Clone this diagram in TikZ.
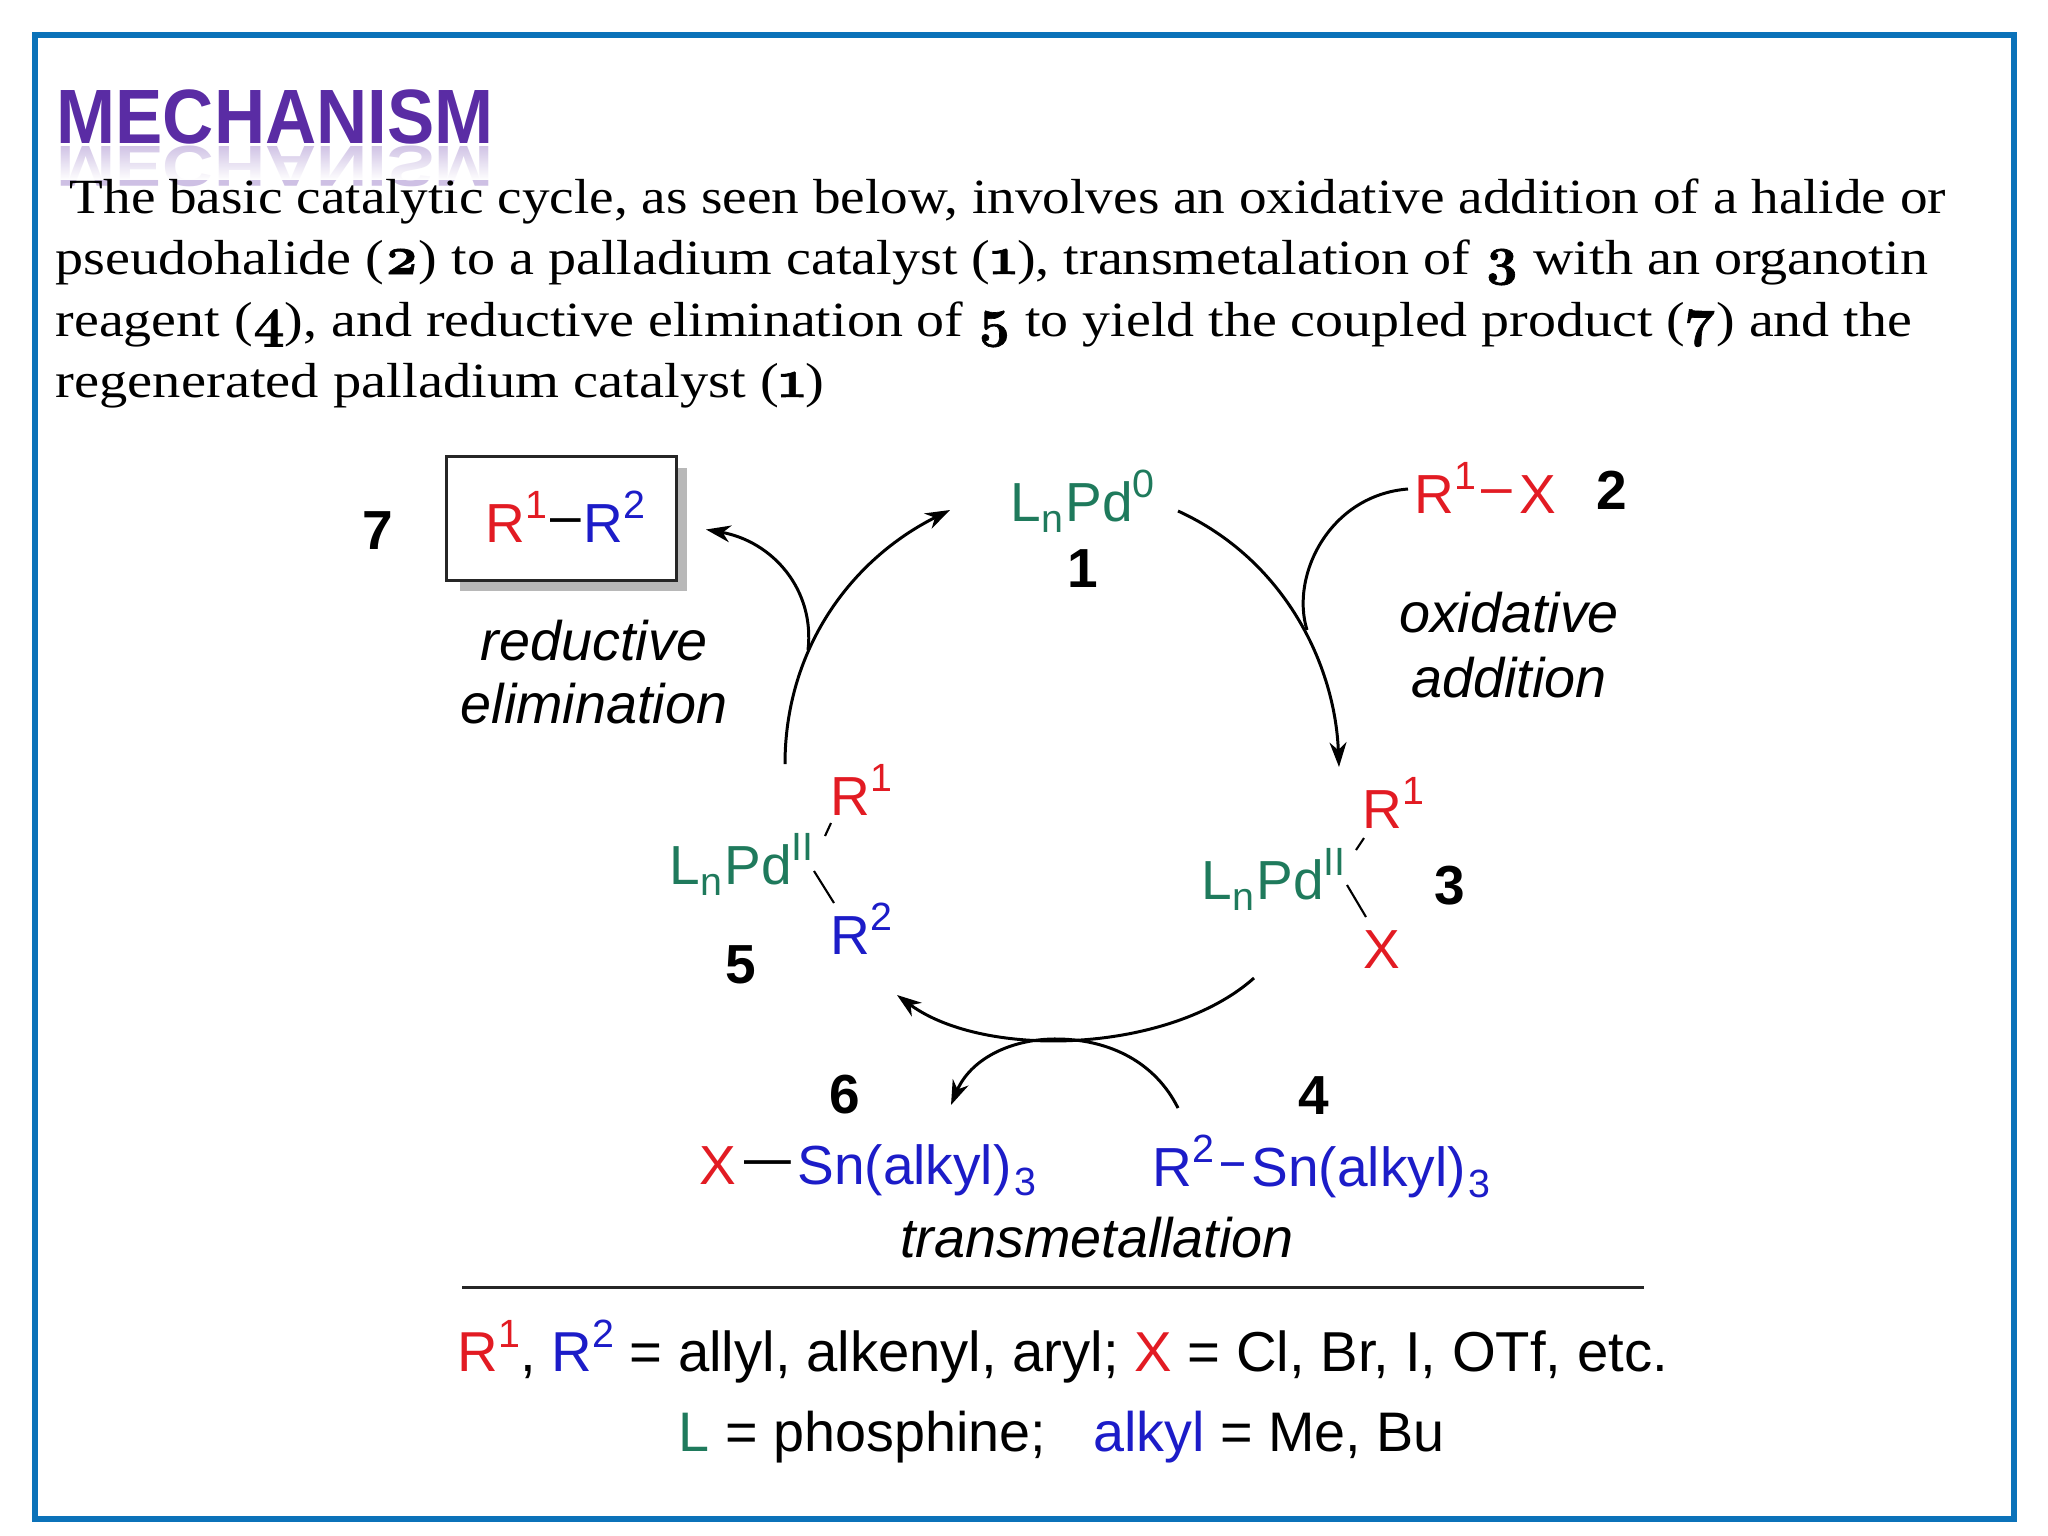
\documentclass[tikz,border=0pt]{standalone}
\usepackage{fontspec}
\usepackage{xcolor}
\usepackage{tikz}
\usetikzlibrary{calc}
\usetikzlibrary{positioning}
\usetikzlibrary{arrows.meta}
\usetikzlibrary{fadings}
\setmainfont{Liberation Sans}
\newfontfamily\bodyfont[FakeStretch=1.12]{Liberation Serif}
\newfontfamily\numfont[Numbers=OldStyle,FakeBold=1.2]{Latin Modern Roman}
\definecolor{framecol}{HTML}{0B72B9}
\definecolor{titlecol}{HTML}{5A2CA4}
\definecolor{pdgreen}{HTML}{1F7A5C}
\definecolor{rred}{HTML}{E21B23}
\definecolor{rblue}{HTML}{1C1CC8}
\newcommand{\upp}[1]{\raisebox{0.42em}{\fontsize{11.2}{11.2}\selectfont #1}}
\newcommand{\low}[1]{\raisebox{-0.2em}{\fontsize{11.2}{11.2}\selectfont #1}}
\newcommand{\bondup}[1]{\raisebox{0.14em}{#1}}
\newcommand{\bnum}[1]{{\numfont\bfseries\fontsize{15.5}{15.5}\selectfont #1}}
\tikzset{
  chem/.style = {anchor=base west, inner sep=0pt, font=\fontsize{15.65}{15.65}\selectfont},
  pdtext/.style = {chem, text=pdgreen},
  keyline/.style = {anchor=base west, inner sep=0pt, font=\fontsize{16}{16}\selectfont},
  numlabel/.style = {anchor=base, inner sep=0pt, font=\fontsize{15.65}{15.65}\selectfont\bfseries},
  steplabel/.style = {anchor=base, inner sep=0pt, font=\fontsize{15.85}{15.85}\selectfont\itshape},
  bodyline/.style = {anchor=base west, inner sep=0pt, transform shape, font=\bodyfont\fontsize{14}{14}\selectfont},
  rxn/.style = {line width=0.85pt, -{Stealth[length=7pt,width=4.8pt,inset=2.2pt]}},
  rxnfree/.style = {line width=0.85pt},
  thinbond/.style = {line width=0.6pt},
}

\begin{document}
\begin{tikzpicture}[x=0.01cm,y=-0.01cm]
\useasboundingbox (0,0) rectangle (2048,1536);
\draw[framecol, line width=1.6pt] (35,35) rectangle (2014,1519);

% heading and its reflection
\node[anchor=base west, inner sep=0pt, text=titlecol, transform shape, xscale=0.92,
  font=\fontsize{21.9}{21.9}\selectfont\bfseries] (title) at (56,143) {MECHANISM};
\node[anchor=base west, inner sep=0pt, text=titlecol!30, transform shape, xscale=0.92, yscale=-0.75,
  font=\fontsize{21.9}{21.9}\selectfont\bfseries] (titleflip) at (56,146) {MECHANISM};
\fill[white, path fading=north] (50,144) rectangle (500,180);

% the paragraph
\node[bodyline, xscale=1.0014] (line1) at (69,213) {The basic catalytic cycle, as seen below, involves an oxidative addition of a halide or};
\node[bodyline, xscale=1.0173] (line2) at (55,274) {pseudohalide (\bnum{2}) to a palladium catalyst (\bnum{1}), transmetalation of \bnum{3} with an organotin};
\node[bodyline, xscale=1.0139] (line3) at (55,336) {reagent (\bnum{4}), and reductive elimination of \bnum{5} to yield the coupled product (\bnum{7}) and the};
\node[bodyline, xscale=1.0245] (line4) at (55,397) {regenerated palladium catalyst (\bnum{1})};

% product box
\fill[black!28] (460,468) rectangle (687,591);
\node[draw=black!85, fill=white, line width=0.85pt, minimum width=230*0.01cm, minimum height=124*0.01cm,
  inner sep=0pt, anchor=north west] (prodbox) at (445,455) {};
\node[chem] (prod) at (485,542) {\textcolor{rred}{R\upp{1}}\hspace{0.05em}\bondup{–}\hspace{0.05em}\textcolor{rblue}{R\upp{2}}};
\node[numlabel] (n7) at (378,549) {7};

% Pd species
\node[pdtext] (pdzero) at (1010,521) {L\low{n}\hspace{0.04em}Pd\upp{0}};
\node[numlabel] (n1) at (1083,587) {1};
\node[chem, text=rred] (rx) at (1414,513) {R\upp{1}\hspace{0.1em}\bondup{–}\hspace{0.12em}X};
\node[numlabel] (n2) at (1612,509) {2};

\node[pdtext] (pdthree) at (1201,899) {L\low{n}\hspace{0.04em}Pd\upp{II}};
\node[chem, text=rred] (rthree) at (1362,828) {R\upp{1}};
\node[chem, text=rred] (xthree) at (1363,968) {X};
\node[numlabel] (n3) at (1450,904) {3};
\draw[thinbond] ([shift={(2,10)}]rthree.base west) -- ([shift={(-6,22)}]rthree.base west);
\draw[thinbond] ([shift={(-16,-83)}]xthree.base west) -- ([shift={(3,-51)}]xthree.base west);

\node[pdtext] (pdfive) at (669,884) {L\low{n}\hspace{0.04em}Pd\upp{II}};
\node[chem, text=rred] (rfive) at (830,815) {R\upp{1}};
\node[chem, text=rblue] (rsix) at (830,954) {R\upp{2}};
\node[numlabel] (n5) at (741,983) {5};
\draw[thinbond] ([shift={(1,8)}]rfive.base west) -- ([shift={(-5,21)}]rfive.base west);
\draw[thinbond] ([shift={(-16,-83)}]rsix.base west) -- ([shift={(4,-51)}]rsix.base west);

% tin reagents
\node[chem] (xsn) at (699,1184) {\textcolor{rred}{X}\hspace{0.14em}\bondup{\scalebox{0.85}[1]{—}}\hspace{0.12em}\textcolor{rblue}{Sn(alkyl)\hspace{0.05em}\low{3}}};
\node[chem, text=rblue] (rsn) at (1152,1186) {R\upp{2}\hspace{0.13em}\bondup{\scalebox{0.75}[1]{–}}\hspace{0.13em}Sn(alkyl)\hspace{0.05em}\low{3}};
\node[numlabel] (n6) at (845,1113) {6};
\node[numlabel] (n4) at (1314,1114) {4};

% step names
\node[steplabel] (redu) at (594,660) {reductive};
\node[steplabel] (elim) at (594,723) {elimination};
\node[steplabel] (oxi) at (1509,632) {oxidative};
\node[steplabel] (addi) at (1509,697) {addition};
\node[steplabel] (trans) at (1097,1257) {transmetallation};

% cycle arrows
\draw[rxn] ([shift={(168,-10)}]pdzero.base west) .. controls +(107,49) and +(-4,-102) .. ([shift={(-23,-61)}]rthree.base west);
\draw[rxnfree] ([shift={(-6,-24)}]rx.base west) .. controls +(-78,6) and +(-17,-55) .. ([shift={(-107,117)}]rx.base west);
\draw[rxn] ([shift={(53,79)}]pdthree.base west) .. controls +(-84,75) and +(88,65) .. ([shift={(228,111)}]pdfive.base west);
\draw[rxnfree] ([shift={(26,-78)}]rsn.base west) .. controls +(-23,-46) and +(51,1) .. ([shift={(-93,-147)}]rsn.base west);
\draw[rxn] ([shift={(-93,-147)}]rsn.base west) .. controls +(-49,-1) and +(19,-45) .. ([shift={(252,-79)}]xsn.base west);
\draw[rxn] ([shift={(116,-120)}]pdfive.base west) .. controls +(0,-114) and +(-100,50) .. ([shift={(-60,-11)}]pdzero.base west);
\draw[rxn] ([shift={(139,-234)}]pdfive.base west) .. controls +(7,-60) and +(67,12) .. ([shift={(28,11)}]prodbox.east);

% footer
\draw[line width=0.85pt, black!85] ([shift={(-635,30)}]trans.base) coordinate (rulea) -- ([shift={(547,30)}]trans.base) coordinate (ruleb);
\node[keyline] (key1) at (457,1371) {\textcolor{rred}{R\upp{1}}, \textcolor{rblue}{R\upp{2}} = allyl, alkenyl, aryl; \textcolor{rred}{X} = Cl, Br, I, OTf, etc.};
\node[keyline, font=\fontsize{15.85}{15.85}\selectfont] (key2) at (678,1451) {\textcolor{pdgreen}{L} = phosphine;\hspace{0.85em}\textcolor{rblue}{alkyl} = Me, Bu};
\end{tikzpicture}
\end{document}
